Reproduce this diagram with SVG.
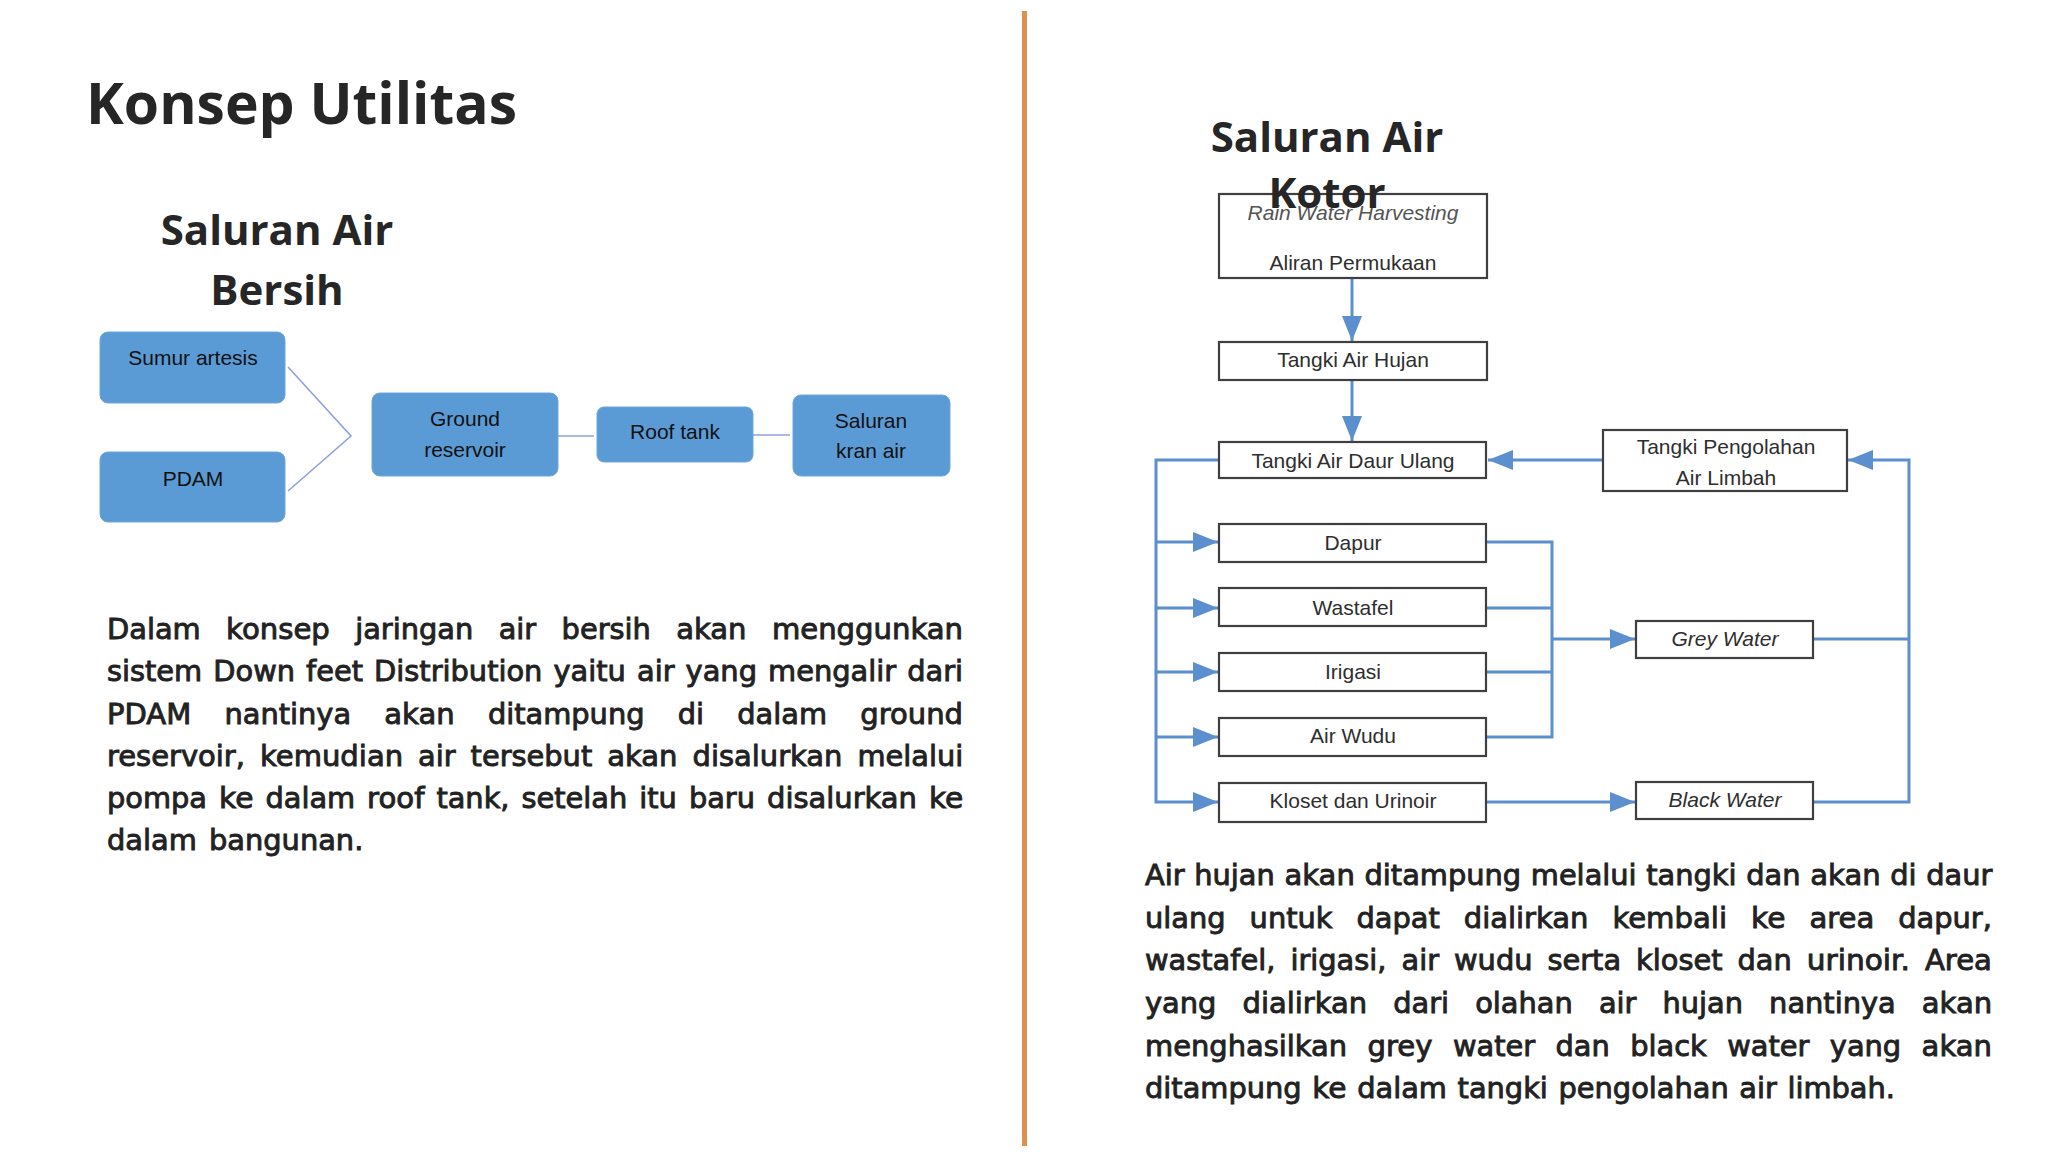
<svg xmlns="http://www.w3.org/2000/svg" width="2048" height="1152" viewBox="0 0 2048 1152">
<style>
.h1{font-family:"Open Sans","DejaVu Sans",sans-serif;font-weight:700;fill:#262626}
.body{font-family:"DejaVu Sans","Open Sans",sans-serif;font-size:28px;fill:#222;stroke:#222;stroke-width:0.9}
.lbox{fill:#5b9bd5;stroke:#6fa6db;stroke-width:1}
.ltxt{font-family:"Liberation Sans",Arial,sans-serif;font-size:21px;fill:#111;text-anchor:middle}
.lcon{fill:none;stroke:#8fa2da;stroke-width:1.6}
.rbox{fill:#fff;stroke:#3f3f3f;stroke-width:2.2}
.rtxt{font-family:"Liberation Sans",Arial,sans-serif;font-size:21px;fill:#2e2e2e;text-anchor:middle}
.it{font-style:italic}
.rcon{fill:none;stroke:#5b8fcd;stroke-width:3}
</style>
<defs>
<marker id="ah" markerUnits="userSpaceOnUse" markerWidth="26" markerHeight="20" refX="25" refY="10" orient="auto">
<path d="M0,0 L25,10 L0,20 z" fill="#5b8fcd"/>
</marker>
</defs>
<rect width="2048" height="1152" fill="#fff"/>

<rect x="1022" y="11" width="5" height="1135" fill="#d9924f"/>

<text class="h1" x="86" y="124" font-size="57">Konsep Utilitas</text>
<text class="h1" x="277" y="245" font-size="42" text-anchor="middle">Saluran Air</text>
<text class="h1" x="277" y="305" font-size="42" text-anchor="middle">Bersih</text>

<g id="connectors-left">
<polyline class="lcon" points="288,367 351,436 288,491"/>
<line class="lcon" x1="558" y1="436" x2="594" y2="436"/>
<line class="lcon" x1="753" y1="435" x2="790" y2="435"/>
</g>
<g id="sumur-artesis"><rect class="lbox" x="100" y="332" width="185" height="71" rx="8"/><text class="ltxt" x="193" y="365">Sumur artesis</text></g>
<g id="pdam"><rect class="lbox" x="100" y="452" width="185" height="70" rx="8"/><text class="ltxt" x="193" y="486">PDAM</text></g>
<g id="ground-reservoir"><rect class="lbox" x="372" y="393" width="186" height="83" rx="8"/><text class="ltxt" x="465" y="426">Ground</text><text class="ltxt" x="465" y="457">reservoir</text></g>
<g id="roof-tank"><rect class="lbox" x="597" y="407" width="156" height="55" rx="7"/><text class="ltxt" x="675" y="439">Roof tank</text></g>
<g id="saluran-kran-air"><rect class="lbox" x="793" y="395" width="157" height="81" rx="8"/><text class="ltxt" x="871" y="428">Saluran</text><text class="ltxt" x="871" y="458">kran air</text></g>

<text class="body" y="639"><tspan x="107" textLength="93.7" lengthAdjust="spacingAndGlyphs">Dalam</tspan> <tspan x="226.1" textLength="103.7" lengthAdjust="spacingAndGlyphs">konsep</tspan> <tspan x="355.2" textLength="118.1" lengthAdjust="spacingAndGlyphs">jaringan</tspan> <tspan x="498.7" textLength="37.5" lengthAdjust="spacingAndGlyphs">air</tspan> <tspan x="561.6" textLength="89.2" lengthAdjust="spacingAndGlyphs">bersih</tspan> <tspan x="676.2" textLength="70.3" lengthAdjust="spacingAndGlyphs">akan</tspan> <tspan x="771.9" textLength="191.1" lengthAdjust="spacingAndGlyphs">menggunkan</tspan></text>
<text class="body" y="681"><tspan x="107" textLength="95.2" lengthAdjust="spacingAndGlyphs">sistem</tspan> <tspan x="213.3" textLength="81.7" lengthAdjust="spacingAndGlyphs">Down</tspan> <tspan x="306.1" textLength="56.9" lengthAdjust="spacingAndGlyphs">feet</tspan> <tspan x="374.1" textLength="168.3" lengthAdjust="spacingAndGlyphs">Distribution</tspan> <tspan x="553.5" textLength="72.4" lengthAdjust="spacingAndGlyphs">yaitu</tspan> <tspan x="637" textLength="37.5" lengthAdjust="spacingAndGlyphs">air</tspan> <tspan x="685.6" textLength="71.4" lengthAdjust="spacingAndGlyphs">yang</tspan> <tspan x="768.1" textLength="128" lengthAdjust="spacingAndGlyphs">mengalir</tspan> <tspan x="907.2" textLength="55.9" lengthAdjust="spacingAndGlyphs">dari</tspan></text>
<text class="body" y="724"><tspan x="107" textLength="84.2" lengthAdjust="spacingAndGlyphs">PDAM</tspan> <tspan x="224.5" textLength="126.6" lengthAdjust="spacingAndGlyphs">nantinya</tspan> <tspan x="384.3" textLength="70.3" lengthAdjust="spacingAndGlyphs">akan</tspan> <tspan x="487.9" textLength="156.6" lengthAdjust="spacingAndGlyphs">ditampung</tspan> <tspan x="677.7" textLength="26.3" lengthAdjust="spacingAndGlyphs">di</tspan> <tspan x="737.3" textLength="89.8" lengthAdjust="spacingAndGlyphs">dalam</tspan> <tspan x="860.3" textLength="102.7" lengthAdjust="spacingAndGlyphs">ground</tspan></text>
<text class="body" y="766"><tspan x="107" textLength="138" lengthAdjust="spacingAndGlyphs">reservoir,</tspan> <tspan x="260" textLength="143.1" lengthAdjust="spacingAndGlyphs">kemudian</tspan> <tspan x="418.1" textLength="37.5" lengthAdjust="spacingAndGlyphs">air</tspan> <tspan x="470.6" textLength="121.6" lengthAdjust="spacingAndGlyphs">tersebut</tspan> <tspan x="607.2" textLength="70.3" lengthAdjust="spacingAndGlyphs">akan</tspan> <tspan x="692.5" textLength="149.9" lengthAdjust="spacingAndGlyphs">disalurkan</tspan> <tspan x="857.4" textLength="105.8" lengthAdjust="spacingAndGlyphs">melalui</tspan></text>
<text class="body" y="808"><tspan x="107" textLength="100" lengthAdjust="spacingAndGlyphs">pompa</tspan> <tspan x="219" textLength="34.4" lengthAdjust="spacingAndGlyphs">ke</tspan> <tspan x="265.4" textLength="89.8" lengthAdjust="spacingAndGlyphs">dalam</tspan> <tspan x="367.1" textLength="57.3" lengthAdjust="spacingAndGlyphs">roof</tspan> <tspan x="436.4" textLength="73.1" lengthAdjust="spacingAndGlyphs">tank,</tspan> <tspan x="521.5" textLength="105.8" lengthAdjust="spacingAndGlyphs">setelah</tspan> <tspan x="639.3" textLength="37.6" lengthAdjust="spacingAndGlyphs">itu</tspan> <tspan x="688.9" textLength="66.1" lengthAdjust="spacingAndGlyphs">baru</tspan> <tspan x="767" textLength="149.9" lengthAdjust="spacingAndGlyphs">disalurkan</tspan> <tspan x="928.9" textLength="34.4" lengthAdjust="spacingAndGlyphs">ke</tspan></text>
<text class="body" y="850"><tspan x="107" textLength="89.8" lengthAdjust="spacingAndGlyphs">dalam</tspan> <tspan x="209" textLength="154.3" lengthAdjust="spacingAndGlyphs">bangunan.</tspan></text>

<g id="connectors-right">
<path class="rcon" d="M1352,278 V341" marker-end="url(#ah)"/>
<path class="rcon" d="M1352,380 V441" marker-end="url(#ah)"/>
<path class="rcon" d="M1603,460 H1488" marker-end="url(#ah)"/>
<path class="rcon" d="M1219,460 H1156 V802 H1218" marker-end="url(#ah)"/>
<path class="rcon" d="M1156,542 H1218" marker-end="url(#ah)"/>
<path class="rcon" d="M1156,608 H1218" marker-end="url(#ah)"/>
<path class="rcon" d="M1156,672 H1218" marker-end="url(#ah)"/>
<path class="rcon" d="M1156,737 H1218" marker-end="url(#ah)"/>
<path class="rcon" d="M1486,542 H1552 V737 H1486"/>
<path class="rcon" d="M1486,608 H1552"/>
<path class="rcon" d="M1486,672 H1552"/>
<path class="rcon" d="M1552,639 H1635" marker-end="url(#ah)"/>
<path class="rcon" d="M1486,802 H1635" marker-end="url(#ah)"/>
<path class="rcon" d="M1813,802 H1909 V460 H1848" marker-end="url(#ah)"/>
<path class="rcon" d="M1813,639 H1909"/>
</g>

<g id="rain-water-harvesting"><rect class="rbox" x="1219" y="194" width="268" height="84"/><text class="rtxt it" x="1353" y="220" style="fill:#555">Rain Water Harvesting</text><text class="rtxt" x="1353" y="270">Aliran Permukaan</text></g>
<g id="tangki-air-hujan"><rect class="rbox" x="1219" y="342" width="268" height="38"/><text class="rtxt" x="1353" y="367">Tangki Air Hujan</text></g>
<g id="tangki-air-daur-ulang"><rect class="rbox" x="1219" y="442" width="267" height="36"/><text class="rtxt" x="1353" y="468">Tangki Air Daur Ulang</text></g>
<g id="tangki-pengolahan"><rect class="rbox" x="1603" y="430" width="244" height="61"/><text class="rtxt" x="1726" y="454">Tangki Pengolahan</text><text class="rtxt" x="1726" y="485">Air Limbah</text></g>
<g id="dapur"><rect class="rbox" x="1219" y="524" width="267" height="38"/><text class="rtxt" x="1353" y="550">Dapur</text></g>
<g id="wastafel"><rect class="rbox" x="1219" y="588" width="267" height="38"/><text class="rtxt" x="1353" y="615">Wastafel</text></g>
<g id="irigasi"><rect class="rbox" x="1219" y="653" width="267" height="38"/><text class="rtxt" x="1353" y="679">Irigasi</text></g>
<g id="air-wudu"><rect class="rbox" x="1219" y="718" width="267" height="38"/><text class="rtxt" x="1353" y="743">Air Wudu</text></g>
<g id="kloset"><rect class="rbox" x="1219" y="783" width="267" height="39"/><text class="rtxt" x="1353" y="808">Kloset dan Urinoir</text></g>
<g id="grey-water"><rect class="rbox" x="1636" y="621" width="177" height="37"/><text class="rtxt it" x="1725" y="646">Grey Water</text></g>
<g id="black-water"><rect class="rbox" x="1636" y="782" width="177" height="37"/><text class="rtxt it" x="1725" y="807">Black Water</text></g>

<text class="h1" x="1327" y="152" font-size="42" text-anchor="middle">Saluran Air</text>
<text class="h1" x="1327" y="208" font-size="42" text-anchor="middle">Kotor</text>

<text class="body" y="885"><tspan x="1145" textLength="39.6" lengthAdjust="spacingAndGlyphs">Air</tspan> <tspan x="1194.3" textLength="80.5" lengthAdjust="spacingAndGlyphs">hujan</tspan> <tspan x="1284.5" textLength="70.3" lengthAdjust="spacingAndGlyphs">akan</tspan> <tspan x="1364.5" textLength="156.6" lengthAdjust="spacingAndGlyphs">ditampung</tspan> <tspan x="1530.8" textLength="105.8" lengthAdjust="spacingAndGlyphs">melalui</tspan> <tspan x="1646.3" textLength="90.3" lengthAdjust="spacingAndGlyphs">tangki</tspan> <tspan x="1746.3" textLength="54.3" lengthAdjust="spacingAndGlyphs">dan</tspan> <tspan x="1810.3" textLength="70.3" lengthAdjust="spacingAndGlyphs">akan</tspan> <tspan x="1890.3" textLength="26.3" lengthAdjust="spacingAndGlyphs">di</tspan> <tspan x="1926.3" textLength="66.1" lengthAdjust="spacingAndGlyphs">daur</tspan></text>
<text class="body" y="928"><tspan x="1145" textLength="80.6" lengthAdjust="spacingAndGlyphs">ulang</tspan> <tspan x="1249.6" textLength="82.9" lengthAdjust="spacingAndGlyphs">untuk</tspan> <tspan x="1356.5" textLength="83.3" lengthAdjust="spacingAndGlyphs">dapat</tspan> <tspan x="1463.8" textLength="124.6" lengthAdjust="spacingAndGlyphs">dialirkan</tspan> <tspan x="1612.4" textLength="114.6" lengthAdjust="spacingAndGlyphs">kembali</tspan> <tspan x="1751" textLength="34.4" lengthAdjust="spacingAndGlyphs">ke</tspan> <tspan x="1809.4" textLength="64.9" lengthAdjust="spacingAndGlyphs">area</tspan> <tspan x="1898.3" textLength="93.6" lengthAdjust="spacingAndGlyphs">dapur,</tspan></text>
<text class="body" y="970"><tspan x="1145" textLength="130.4" lengthAdjust="spacingAndGlyphs">wastafel,</tspan> <tspan x="1290.4" textLength="96.1" lengthAdjust="spacingAndGlyphs">irigasi,</tspan> <tspan x="1401.5" textLength="37.5" lengthAdjust="spacingAndGlyphs">air</tspan> <tspan x="1454" textLength="78.5" lengthAdjust="spacingAndGlyphs">wudu</tspan> <tspan x="1547.5" textLength="73.6" lengthAdjust="spacingAndGlyphs">serta</tspan> <tspan x="1636.1" textLength="86.4" lengthAdjust="spacingAndGlyphs">kloset</tspan> <tspan x="1737.5" textLength="54.3" lengthAdjust="spacingAndGlyphs">dan</tspan> <tspan x="1806.8" textLength="103.1" lengthAdjust="spacingAndGlyphs">urinoir.</tspan> <tspan x="1924.9" textLength="67" lengthAdjust="spacingAndGlyphs">Area</tspan></text>
<text class="body" y="1013"><tspan x="1145" textLength="71.4" lengthAdjust="spacingAndGlyphs">yang</tspan> <tspan x="1242.5" textLength="124.6" lengthAdjust="spacingAndGlyphs">dialirkan</tspan> <tspan x="1393.2" textLength="55.9" lengthAdjust="spacingAndGlyphs">dari</tspan> <tspan x="1475.2" textLength="97.6" lengthAdjust="spacingAndGlyphs">olahan</tspan> <tspan x="1598.9" textLength="37.5" lengthAdjust="spacingAndGlyphs">air</tspan> <tspan x="1662.5" textLength="80.5" lengthAdjust="spacingAndGlyphs">hujan</tspan> <tspan x="1769.1" textLength="126.6" lengthAdjust="spacingAndGlyphs">nantinya</tspan> <tspan x="1921.8" textLength="70.3" lengthAdjust="spacingAndGlyphs">akan</tspan></text>
<text class="body" y="1056"><tspan x="1145" textLength="202.1" lengthAdjust="spacingAndGlyphs">menghasilkan</tspan> <tspan x="1367.5" textLength="65" lengthAdjust="spacingAndGlyphs">grey</tspan> <tspan x="1452.9" textLength="82.2" lengthAdjust="spacingAndGlyphs">water</tspan> <tspan x="1555.5" textLength="54.3" lengthAdjust="spacingAndGlyphs">dan</tspan> <tspan x="1630.2" textLength="76.6" lengthAdjust="spacingAndGlyphs">black</tspan> <tspan x="1727.2" textLength="82.2" lengthAdjust="spacingAndGlyphs">water</tspan> <tspan x="1829.8" textLength="71.4" lengthAdjust="spacingAndGlyphs">yang</tspan> <tspan x="1921.6" textLength="70.3" lengthAdjust="spacingAndGlyphs">akan</tspan></text>
<text class="body" y="1098"><tspan x="1145" textLength="156.6" lengthAdjust="spacingAndGlyphs">ditampung</tspan> <tspan x="1312.2" textLength="34.4" lengthAdjust="spacingAndGlyphs">ke</tspan> <tspan x="1357.2" textLength="89.8" lengthAdjust="spacingAndGlyphs">dalam</tspan> <tspan x="1457.6" textLength="90.3" lengthAdjust="spacingAndGlyphs">tangki</tspan> <tspan x="1558.5" textLength="170.2" lengthAdjust="spacingAndGlyphs">pengolahan</tspan> <tspan x="1739.3" textLength="37.5" lengthAdjust="spacingAndGlyphs">air</tspan> <tspan x="1787.4" textLength="107.6" lengthAdjust="spacingAndGlyphs">limbah.</tspan></text>
</svg>
